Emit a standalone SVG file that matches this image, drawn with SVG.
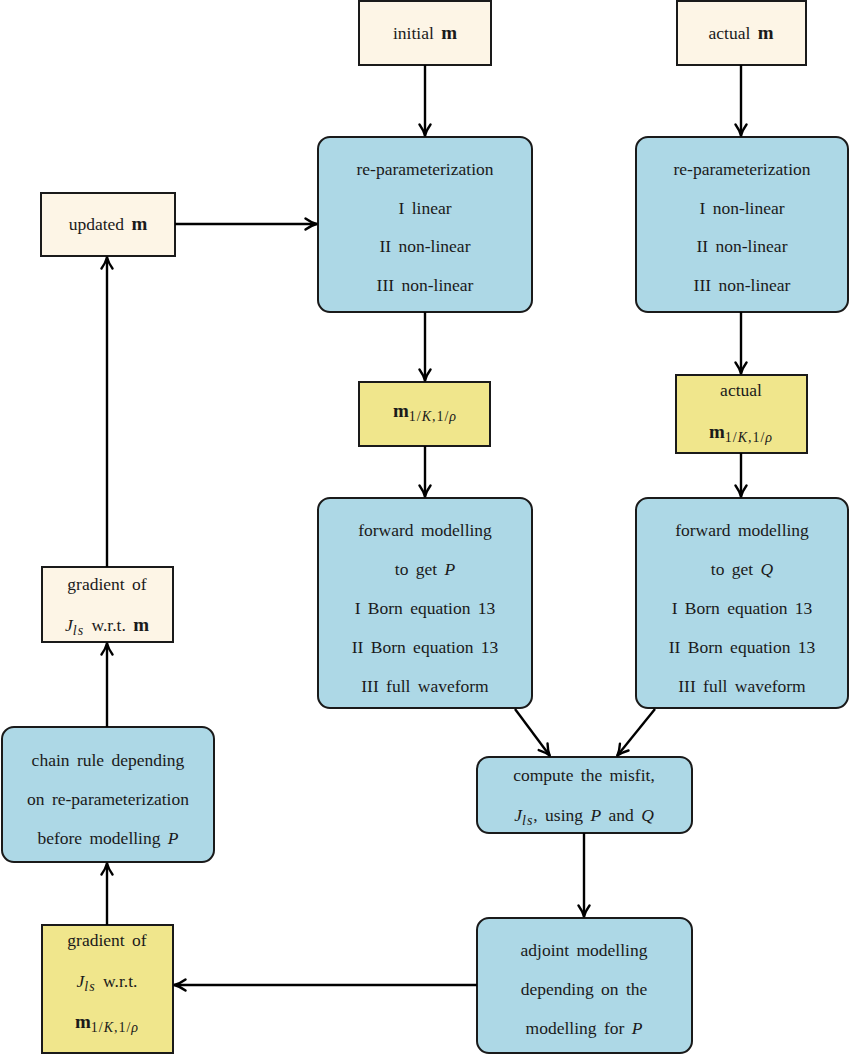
<svg xmlns="http://www.w3.org/2000/svg" width="850" height="1054" viewBox="0 0 850 1054">
<defs>
<marker id="ah" viewBox="0 0 14 14" refX="13" refY="7" markerWidth="14" markerHeight="14" markerUnits="userSpaceOnUse" orient="auto">
<path d="M1.5,1.5 Q7,5.5 12.5,7 Q7,8.5 1.5,12.5" fill="none" stroke="#000" stroke-width="2.4" stroke-linecap="round" stroke-linejoin="round"/>
</marker>
</defs>
<style>
.cream{fill:#FDF5E6;stroke:#1a1a1a;stroke-width:2}
.blue{fill:#ADD8E6;stroke:#1a1a1a;stroke-width:2}
.khaki{fill:#F0E68C;stroke:#1a1a1a;stroke-width:2}
text{font-family:"Liberation Serif","Times New Roman",serif;font-size:17.5px;fill:#1a1a1a;text-anchor:middle;word-spacing:3px}
.b{font-weight:bold;font-size:19px}
.i{font-style:italic}
.s{font-size:14px;letter-spacing:1px}
.conn line{stroke:#000;stroke-width:2.4;marker-end:url(#ah)}
</style>
<g id="initial-m"><rect class="cream" x="359" y="1" width="132" height="64"/><text x="425" y="39">initial <tspan class="b">m</tspan></text></g>
<g id="actual-m"><rect class="cream" x="677" y="1" width="129" height="64"/><text x="741" y="39">actual <tspan class="b">m</tspan></text></g>
<g id="reparam-left"><rect class="blue" x="318" y="137" width="214" height="175" rx="12"/>
<text x="425" y="175">re-parameterization</text><text x="425" y="214">I linear</text><text x="425" y="252">II non-linear</text><text x="425" y="291">III non-linear</text></g>
<g id="reparam-right"><rect class="blue" x="636" y="137" width="212" height="175" rx="12"/>
<text x="742" y="175">re-parameterization</text><text x="742" y="214">I non-linear</text><text x="742" y="252">II non-linear</text><text x="742" y="291">III non-linear</text></g>
<g id="updated-m"><rect class="cream" x="41" y="193" width="134" height="63"/><text x="108" y="230">updated <tspan class="b">m</tspan></text></g>
<g id="m-left"><rect class="khaki" x="359" y="382" width="131" height="64"/><text x="425" y="417"><tspan class="b">m</tspan><tspan class="s" dy="4">1/</tspan><tspan class="s i">K</tspan><tspan class="s">,1/</tspan><tspan class="s i">ρ</tspan></text></g>
<g id="m-right"><rect class="khaki" x="676" y="375" width="131" height="78"/><text x="741" y="396">actual</text><text x="741" y="438"><tspan class="b">m</tspan><tspan class="s" dy="4">1/</tspan><tspan class="s i">K</tspan><tspan class="s">,1/</tspan><tspan class="s i">ρ</tspan></text></g>
<g id="forward-left"><rect class="blue" x="318" y="498" width="214" height="210" rx="12"/>
<text x="425" y="536">forward modelling</text><text x="425" y="575">to get <tspan class="i">P</tspan></text><text x="425" y="614">I Born equation 13</text><text x="425" y="653">II Born equation 13</text><text x="425" y="692">III full waveform</text></g>
<g id="forward-right"><rect class="blue" x="636" y="498" width="212" height="210" rx="12"/>
<text x="742" y="536">forward modelling</text><text x="742" y="575">to get <tspan class="i">Q</tspan></text><text x="742" y="614">I Born equation 13</text><text x="742" y="653">II Born equation 13</text><text x="742" y="692">III full waveform</text></g>
<g id="gradient-m"><rect class="cream" x="42" y="567" width="131" height="75"/><text x="107" y="590">gradient of</text><text x="107" y="631"><tspan class="i">J</tspan><tspan class="s i" dy="4">ls</tspan><tspan dy="-4"> w.r.t. </tspan><tspan class="b">m</tspan></text></g>
<g id="chain-rule"><rect class="blue" x="2" y="727" width="212" height="135" rx="12"/>
<text x="108" y="766">chain rule depending</text><text x="108" y="805">on re-parameterization</text><text x="108" y="844">before modelling <tspan class="i">P</tspan></text></g>
<g id="misfit"><rect class="blue" x="477" y="757" width="215" height="76" rx="12"/>
<text x="584" y="781">compute the misfit,</text><text x="584" y="821"><tspan class="i">J</tspan><tspan class="s i" dy="4">ls</tspan><tspan dy="-4">, using </tspan><tspan class="i">P</tspan> and <tspan class="i">Q</tspan></text></g>
<g id="adjoint"><rect class="blue" x="477" y="918" width="215" height="135" rx="12"/>
<text x="584" y="956">adjoint modelling</text><text x="584" y="995">depending on the</text><text x="584" y="1034">modelling for <tspan class="i">P</tspan></text></g>
<g id="gradient-m1k"><rect class="khaki" x="42" y="925" width="131" height="128"/>
<text x="107" y="946">gradient of</text><text x="107" y="987"><tspan class="i">J</tspan><tspan class="s i" dy="4">ls</tspan><tspan dy="-4"> w.r.t.</tspan></text><text x="107" y="1028"><tspan class="b">m</tspan><tspan class="s" dy="4">1/</tspan><tspan class="s i">K</tspan><tspan class="s">,1/</tspan><tspan class="s i">ρ</tspan></text></g>
<g id="connectors" class="conn">
<line x1="425" y1="65" x2="425" y2="136"/>
<line x1="741" y1="65" x2="741" y2="136"/>
<line x1="175" y1="224" x2="317" y2="224"/>
<line x1="425" y1="312" x2="425" y2="381"/>
<line x1="741" y1="312" x2="741" y2="374"/>
<line x1="425" y1="446" x2="425" y2="497"/>
<line x1="741" y1="453" x2="741" y2="497"/>
<line x1="515" y1="709" x2="550" y2="756"/>
<line x1="655" y1="709" x2="617" y2="756"/>
<line x1="584" y1="833" x2="584" y2="917"/>
<line x1="477" y1="985" x2="174" y2="985"/>
<line x1="107" y1="925" x2="107" y2="863"/>
<line x1="107" y1="727" x2="107" y2="643"/>
<line x1="107" y1="567" x2="107" y2="257"/>
</g>
</svg>
